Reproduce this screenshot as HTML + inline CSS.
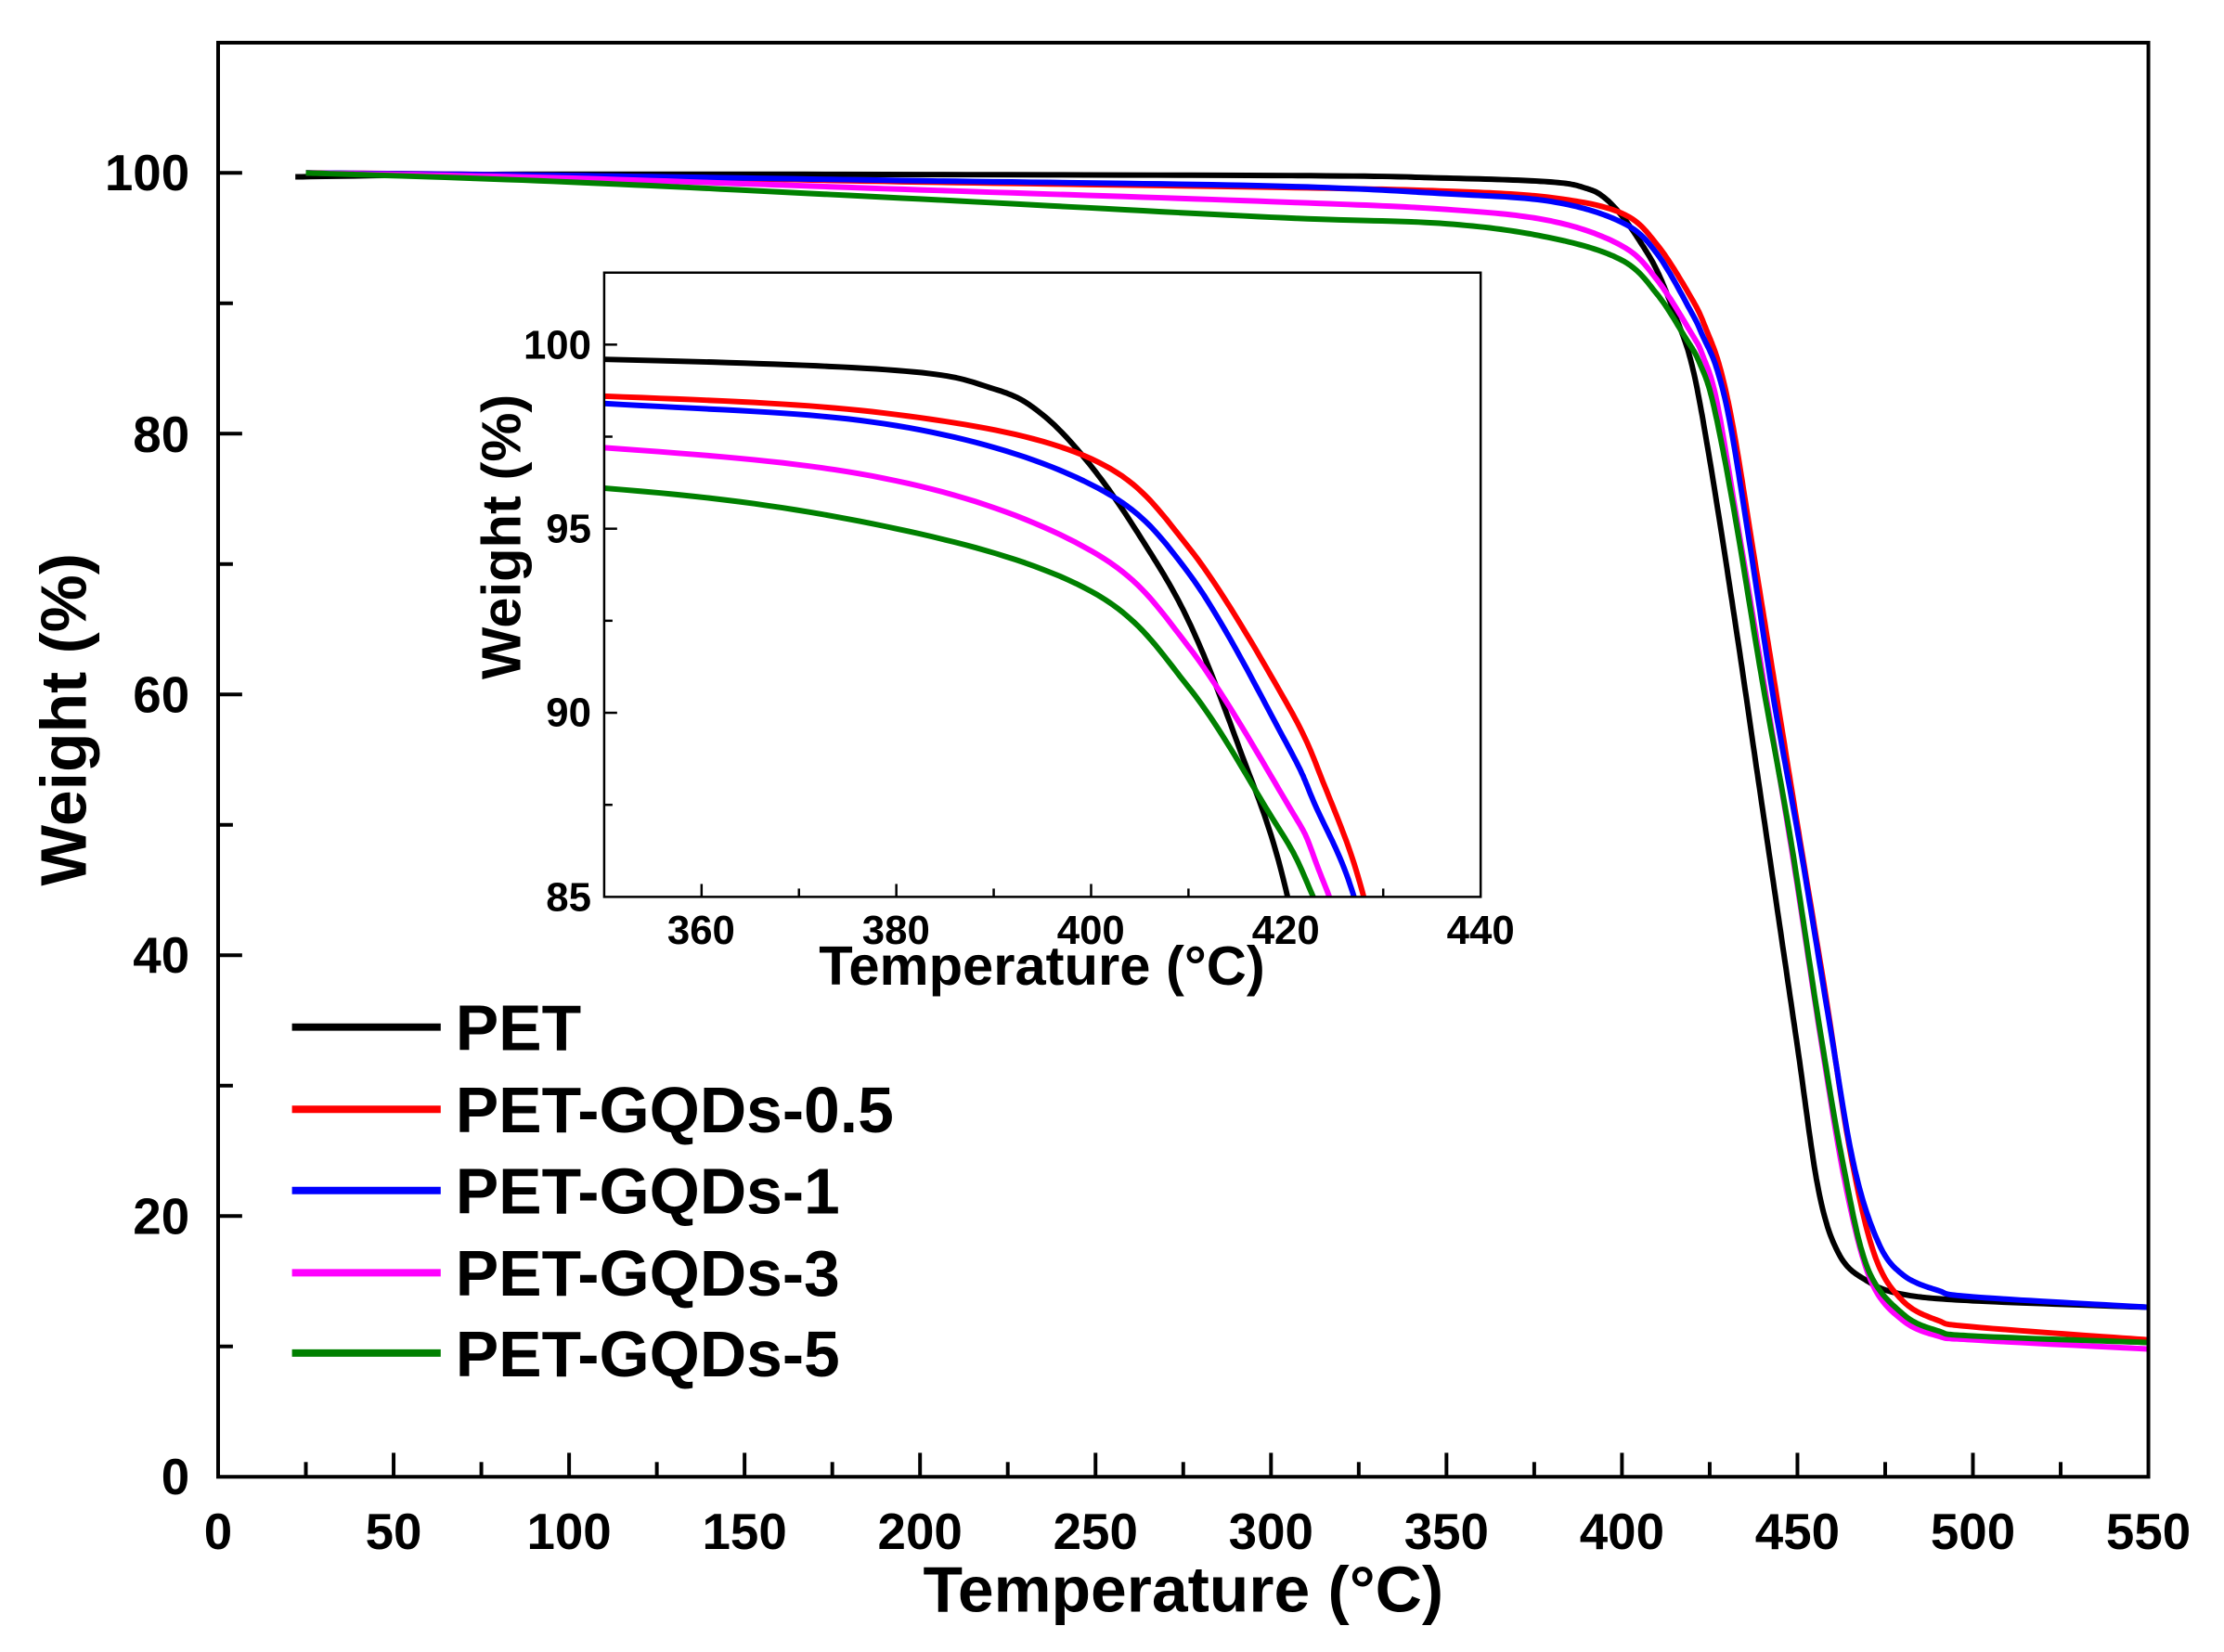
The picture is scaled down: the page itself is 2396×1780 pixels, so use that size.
<!DOCTYPE html>
<html><head><meta charset="utf-8"><style>
html,body{margin:0;padding:0;background:#fff;overflow:hidden;width:2396px;height:1780px}
svg{display:block}
text{font-family:"Liberation Sans",Arial,sans-serif;font-weight:bold;fill:#000}
</style></head><body>
<svg id="s" width="2396" height="1780" viewBox="0 0 2396 1780" xmlns="http://www.w3.org/2000/svg">
<defs>
<clipPath id="cm"><rect x="235" y="46" width="2090" height="1553"/></clipPath>
<clipPath id="ci"><rect x="653" y="295" width="949" height="676"/></clipPath>
</defs>
<g transform="translate(235,46) scale(0.995) translate(-235,-46)">
<g id="main"></g>
<rect x="653" y="295" width="949" height="676" fill="#fff" stroke="none"/>
<g id="inset"></g>
<rect x="235" y="46" width="2090" height="1553" fill="none" stroke="#000" stroke-width="4"/>
<rect x="653" y="295" width="949" height="676" fill="none" stroke="#000" stroke-width="2.5"/>
<g id="ticks" stroke="#000"></g>
<g font-size="55" text-anchor="end">
<text x="204" y="1618">0</text><text x="204" y="1336">20</text><text x="204" y="1053">40</text>
<text x="204" y="771">60</text><text x="204" y="489">80</text><text x="204" y="206">100</text>
</g>
<g font-size="55" text-anchor="middle">
<text x="235" y="1677">0</text><text x="425" y="1677">50</text><text x="615" y="1677">100</text>
<text x="805" y="1677">150</text><text x="995" y="1677">200</text><text x="1185" y="1677">250</text>
<text x="1375" y="1677">300</text><text x="1565" y="1677">350</text><text x="1755" y="1677">400</text>
<text x="1945" y="1677">450</text><text x="2135" y="1677">500</text><text x="2325" y="1677">550</text>
</g>
<text x="1280" y="1745" font-size="70" text-anchor="middle">Temperature (°C)</text>
<text transform="translate(92,779) rotate(-90)" font-size="70" text-anchor="middle">Weight (%)</text>
<g font-size="44" text-anchor="end">
<text x="639" y="986">85</text><text x="639" y="786">90</text><text x="639" y="587">95</text><text x="639" y="388">100</text>
</g>
<g font-size="44" text-anchor="middle">
<text x="758" y="1022">360</text><text x="969" y="1022">380</text><text x="1180" y="1022">400</text>
<text x="1391" y="1022">420</text><text x="1602" y="1022">440</text>
</g>
<text x="1127" y="1066" font-size="60" text-anchor="middle">Temperature (°C)</text>
<text transform="translate(562,581) rotate(-90)" font-size="60" text-anchor="middle">Weight (%)</text>
<g stroke-width="8">
<line x1="315" y1="1112" x2="476" y2="1112" stroke="#000"/>
<line x1="315" y1="1201" x2="476" y2="1201" stroke="#f00"/>
<line x1="315" y1="1289" x2="476" y2="1289" stroke="#00f"/>
<line x1="315" y1="1378" x2="476" y2="1378" stroke="#f0f"/>
<line x1="315" y1="1465" x2="476" y2="1465" stroke="#008000"/>
</g>
<g font-size="70">
<text x="492" y="1137">PET</text>
<text x="492" y="1226">PET-GQDs-0.5</text>
<text x="492" y="1314">PET-GQDs-1</text>
<text x="492" y="1403">PET-GQDs-3</text>
<text x="492" y="1490">PET-GQDs-5</text>
</g>
</g>
</svg>
<script>
var D={
"#000":[[22,99.7],[100,99.9],[300,99.8],[350,99.6],[380,99.3],[390,98.8],[395,98.1],[400,96.7],[405,94.8],[410,92.5],[415,89.2],[420,85.2],[425,78],[432,66],[438,55],[444,44],[450,33],[456,22],[462,17],[470,15],[480,14],[500,13.5],[550,13]],
"#f00":[[25,100],[100,99.8],[200,99.3],[300,98.9],[350,98.6],[380,98.1],[400,96.9],[410,94.5],[420,90.3],[424,88],[428,85],[432,80],[438,70],[444,60],[450,50],[458,37],[465,25],[472,17],[480,13.5],[490,12],[500,11.5],[550,10.5]],
"#00f":[[25,100],[100,99.8],[200,99.4],[300,99],[350,98.4],[380,97.8],[400,96.2],[410,93.8],[420,89.2],[423,87.5],[427,85],[431,80.5],[437,70.5],[443,60],[451,48],[459,35],[466,24],[473,18],[480,15.5],[490,14.3],[500,13.8],[550,13]],
"#f0f":[[25,100],[100,99.6],[200,98.7],[300,97.8],[350,97.2],[380,96.3],[400,94.4],[410,91.8],[420,87.6],[423,86],[427,82.5],[433,73],[441,60],[449,47],[457,33],[464,22],[471,15],[480,12],[490,10.8],[500,10.5],[550,9.8]],
"#008000":[[25,100],[100,99.3],[200,98],[300,96.6],[350,96.1],[380,95],[400,93.3],[410,90.7],[418,87.4],[422,85.5],[426,82.3],[432,74],[440,61],[448,49],[456,35],[463,24],[470,16],[480,12.5],[490,11.2],[500,10.8],[550,10.3]]};
function dense(p){var o=[];for(var i=0;i<p.length-1;i++){var p0=p[i-1]||p[i],p1=p[i],p2=p[i+1],p3=p[i+2]||p[i+1];
for(var t=0;t<1;t+=0.05){var t2=t*t,t3=t2*t;function f(a,b,c,d){return 0.5*(2*b+(-a+c)*t+(2*a-5*b+4*c-d)*t2+(-a+3*b-3*c+d)*t3);}
o.push([f(p0[0],p1[0],p2[0],p3[0]),f(p0[1],p1[1],p2[1],p3[1])]);}}o.push(p[p.length-1]);return o;}
var NS="http://www.w3.org/2000/svg";
function draw(g,clip,fx,fy,w){var G=document.getElementById(g);G.setAttribute("clip-path","url(#"+clip+")");
for(var c in D){var pts=dense(D[c]).map(function(q){return fx(q[0]).toFixed(1)+","+fy(q[1]).toFixed(1)}).join(" ");
var e=document.createElementNS(NS,"polyline");e.setAttribute("points",pts);e.setAttribute("fill","none");e.setAttribute("stroke",c);e.setAttribute("stroke-width",w);e.setAttribute("stroke-linejoin","round");G.appendChild(e);}}
draw("main","cm",function(x){return 235+x*3.8},function(y){return 1599-y*14.12},6);
draw("inset","ci",function(x){return 653+(x-350)*10.544},function(y){return 971-(y-85)*39.87},6);
var T=document.getElementById("ticks");
function L(x1,y1,x2,y2,w){var e=document.createElementNS(NS,"line");e.setAttribute("x1",x1);e.setAttribute("y1",y1);e.setAttribute("x2",x2);e.setAttribute("y2",y2);e.setAttribute("stroke-width",w);T.appendChild(e);}
for(var v=25;v<550;v+=25){var x=235+v*3.8;L(x,1599,x,1599-(v%50==0?26:16),4);}
for(var v=10;v<110;v+=10){var y=1599-v*14.12;L(235,y,235+(v%20==0?26:16),y,4);}
for(var v=360;v<440;v+=10){var x=653+(v-350)*10.544;L(x,971,x,971-(v%20==0?14:9),2.5);}
for(var v=87.5;v<102;v+=2.5){var y=971-(v-85)*39.87;L(653,y,653+(v%5==0?14:9),y,2.5);}
</script>
</body></html>
